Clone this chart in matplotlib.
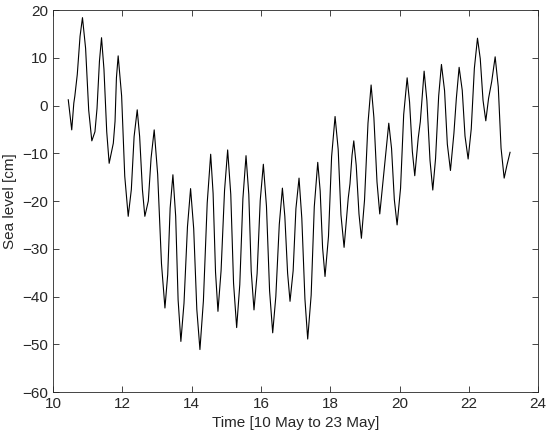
import matplotlib
matplotlib.use("Agg")
import matplotlib.pyplot as plt

# sea level record (days in May, cm)
timeDays = [10.44, 10.54, 10.60, 10.63, 10.70, 10.78, 10.85, 10.94, 11.03, 11.12,
            11.21, 11.27, 11.34, 11.40, 11.47, 11.55, 11.62, 11.74, 11.79, 11.83,
            11.88, 11.98, 12.07, 12.17, 12.26, 12.34, 12.43, 12.50, 12.58, 12.65,
            12.75, 12.83, 12.92, 13.02, 13.13, 13.23, 13.31, 13.38, 13.46, 13.54,
            13.61, 13.69, 13.78, 13.88, 13.97, 14.06, 14.15, 14.24, 14.34, 14.45,
            14.55, 14.62, 14.69, 14.76, 14.85, 14.95, 15.04, 15.13, 15.21, 15.30,
            15.39, 15.48, 15.57, 15.65, 15.72, 15.80, 15.89, 15.98, 16.07, 16.16,
            16.25, 16.34, 16.43, 16.53, 16.62, 16.69, 16.77, 16.84, 16.93, 17.01,
            17.10, 17.18, 17.27, 17.35, 17.45, 17.54, 17.64, 17.71, 17.78, 17.85,
            17.95, 18.04, 18.14, 18.23, 18.31, 18.40, 18.52, 18.57, 18.63, 18.68,
            18.75, 18.83, 18.90, 18.99, 19.09, 19.18, 19.26, 19.35, 19.43, 19.58,
            19.69, 19.77, 19.85, 19.93, 20.03, 20.12, 20.22, 20.29, 20.37, 20.44,
            20.54, 20.60, 20.71, 20.79, 20.88, 20.96, 21.04, 21.13, 21.21, 21.30,
            21.38, 21.47, 21.57, 21.64, 21.72, 21.81, 21.89, 21.98, 22.07, 22.16,
            22.25, 22.33, 22.41, 22.49, 22.57, 22.66, 22.76, 22.85, 22.93, 23.02,
            23.10, 23.19]
seaLevel = [1.2, -5.1, 0.5, 2.0, 6.5, 14.5, 18.4, 12.0, -1.0, -7.4,
            -5.5, -0.6, 9.3, 14.2, 7.6, -5.5, -12.1, -7.9, -3.3, 5.8,
            10.4, 2.0, -14.8, -23.2, -17.6, -6.5, -0.9, -6.5, -17.6, -23.2,
            -20.0, -11.0, -5.1, -14.4, -33.1, -42.4, -35.4, -21.5, -14.5, -23.2,
            -40.7, -49.4, -41.4, -25.4, -17.4, -25.8, -42.7, -51.1, -40.9, -20.4,
            -10.2, -18.4, -34.9, -43.1, -34.6, -17.8, -9.3, -18.6, -37.2, -46.5,
            -37.5, -19.5, -10.5, -18.6, -34.7, -42.8, -35.2, -19.9, -12.3, -21.1,
            -38.8, -47.6, -40.0, -24.9, -17.3, -23.2, -35.1, -41.0, -34.6, -21.6,
            -15.2, -23.6, -40.5, -48.9, -39.7, -21.2, -11.9, -17.9, -29.8, -35.8,
            -27.4, -10.7, -2.3, -9.2, -22.9, -29.7, -19.4, -16.4, -10.4, -7.4,
            -12.5, -22.7, -27.8, -19.8, -3.7, 4.3, -2.5, -16.0, -22.7, -11.7,
            -3.7, -9.0, -19.7, -25.0, -17.3, -1.9, 5.8, 0.7, -9.6, -14.7,
            -6.8, -3.4, 7.2, 1.0, -11.5, -17.7, -11.1, 2.0, 8.6, 3.1,
            -8.1, -13.6, -5.8, 1.5, 8.0, 3.2, -6.4, -11.2, -4.9, 7.8,
            14.1, 9.8, 1.1, -3.2, 1.5, 5.0, 10.2, 3.9, -8.9, -15.2,
            -12.5, -9.8]

xTicks = [10, 12, 14, 16, 18, 20, 22, 24]
yTicks = [-60, -50, -40, -30, -20, -10, 0, 10, 20]

plt.rcParams['font.family'] = ['Liberation Sans', 'DejaVu Sans']

fig = plt.figure(figsize=(5.5, 4.45), dpi=100)
ax = fig.add_axes([0.0964, 0.119, 0.882, 0.8585])

ax.plot(timeDays, seaLevel, color='black', linewidth=0.8)

ax.set_xlim(10, 24)
ax.set_ylim(-60, 20)
ax.set_xticks(xTicks)
ax.set_yticks(yTicks)
ax.tick_params(direction='in', top=True, right=True, length=4, width=0.6,
               color='#262626', labelsize=11, labelcolor='#262626')
for side in ax.spines.values():
    side.set_color('#262626')
    side.set_linewidth(0.6)

ax.set_xlabel('Time [10 May to 23 May]', fontsize=11, color='#262626')
ax.set_ylabel('Sea level [cm]', fontsize=11, color='#262626')

fig.savefig('out.png', dpi=100)
